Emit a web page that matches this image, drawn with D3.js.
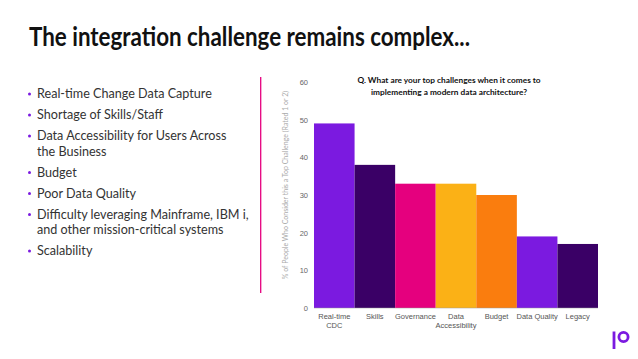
<!DOCTYPE html>
<html>
<head>
<meta charset="utf-8">
<script src="https://cdn.jsdelivr.net/npm/d3@7"></script>
<style>
  body { margin: 0; background: #fff; }
  svg { display: block; }
</style>
</head>
<body>
<svg width="638" height="359"></svg>
<script>
// chart data
const categories = ["Real-time|CDC", "Skills", "Governance", "Data|Accessibility", "Budget", "Data Quality", "Legacy"];
const values = [49, 38, 33, 33, 30, 19, 17];
const barColors = ["#7B1AE0", "#3A0066", "#E5007E", "#FBB116", "#FA7D0E", "#7B1AE0", "#3A0066"];
const yTicks = [0, 10, 20, 30, 40, 50, 60];
const bullets = [
    ["Real-time Change Data Capture"],
    ["Shortage of Skills/Staff"],
    ["Data Accessibility for Users Across", "the Business"],
    ["Budget"],
    ["Poor Data Quality"],
    ["Difficulty leveraging Mainframe, IBM i,", "and other mission-critical systems"],
    ["Scalability"]
];

const svg = d3.select("svg");

// title
svg.append("text")
    .attr("x", 29)
    .attr("y", 46)
    .attr("font-family", "Lato, sans-serif")
    .attr("font-weight", 700)
    .attr("font-size", 26)
    .attr("textLength", 441)
    .attr("lengthAdjust", "spacingAndGlyphs")
    .attr("fill", "#111")
    .text("The integration challenge remains complex...");

// bullet list on the left
let by = 98;
bullets.forEach(lines => {
    svg.append("circle")
        .attr("cx", 29.5)
        .attr("cy", by - 4)
        .attr("r", 1.5)
        .attr("fill", "#7B1AE0");
    lines.forEach((l, i) => {
        svg.append("text")
            .attr("x", 37)
            .attr("y", by + i * 15.5)
            .attr("font-family", "Lato, sans-serif")
            .attr("font-size", 12.6)
            .attr("fill", "#333")
            .text(l);
    });
    by += 21 + (lines.length - 1) * 15.5;
});

// pink divider
svg.append("line")
    .attr("x1", 260.7).attr("x2", 260.7)
    .attr("y1", 77).attr("y2", 293)
    .attr("stroke", "#E5007E")
    .attr("stroke-width", 1.3);

// chart
const margin = {top: 82, left: 314, right: 40, bottom: 51};
const width = 638 - margin.left - margin.right,
    height = 359 - margin.top - margin.bottom;

const x = d3.scaleBand().domain(categories).range([0, 284]).padding(0);
const y = d3.scaleLinear().domain([0, 60]).range([height, 0]);

const g = svg.append("g")
    .attr("transform", `translate(${margin.left}, ${margin.top})`);

g.selectAll(".bar")
    .data(values)
    .enter().append("rect")
    .attr("class", "bar")
    .attr("x", (d, i) => x(categories[i]))
    .attr("y", d => y(d))
    .attr("width", x.bandwidth())
    .attr("height", d => height - y(d))
    .attr("fill", (d, i) => barColors[i]);

// y axis (labels only)
const yAxis = g.append("g")
    .call(d3.axisLeft(y).tickValues(yTicks).tickSize(0).tickPadding(6));
yAxis.select(".domain").remove();
yAxis.selectAll("text")
    .attr("font-family", "Liberation Sans, Arial, sans-serif")
    .attr("font-size", 7.5)
    .attr("fill", "#666");

// baseline
g.append("line")
    .attr("x1", 0).attr("x2", 284)
    .attr("y1", height).attr("y2", height)
    .attr("stroke", "#999")
    .attr("stroke-width", 0.5);

// x labels (split on |)
const xLabels = g.append("g");
categories.forEach(c => {
    const t = xLabels.append("text")
        .attr("x", x(c) + x.bandwidth() / 2)
        .attr("y", height + 11)
        .attr("text-anchor", "middle")
        .attr("font-family", "Liberation Sans, Arial, sans-serif")
        .attr("font-size", 7.5)
        .attr("fill", "#555");
    c.split("|").forEach((p, i) => {
        t.append("tspan")
            .attr("x", x(c) + x.bandwidth() / 2)
            .attr("dy", i ? 8.5 : 0)
            .text(p);
    });
});

// y axis title
svg.append("text")
    .attr("transform", "translate(288, 185) rotate(-90)")
    .attr("text-anchor", "middle")
    .attr("font-family", "Lato, sans-serif")
    .attr("font-size", 7)
    .attr("fill", "#aaa")
    .text("% of People Who Consider this a Top Challenge (Rated 1 or 2)");

// question
const q = svg.append("text")
    .attr("text-anchor", "middle")
    .attr("font-family", "Lato, sans-serif")
    .attr("font-weight", 700)
    .attr("font-size", 8.3)
    .attr("fill", "#111");
q.append("tspan").attr("x", 449).attr("y", 83).text("Q. What are your top challenges when it comes to");
q.append("tspan").attr("x", 449).attr("y", 94.5).text("implementing a modern data architecture?");

// logo
const logo = svg.append("g").attr("fill", "none").attr("stroke", "#7B1AE0").attr("stroke-width", 2.8);
logo.append("line").attr("x1", 614).attr("x2", 614).attr("y1", 331.5).attr("y2", 349);
logo.append("circle").attr("cx", 623.5).attr("cy", 337).attr("r", 4.6);
</script>
</body>
</html>
